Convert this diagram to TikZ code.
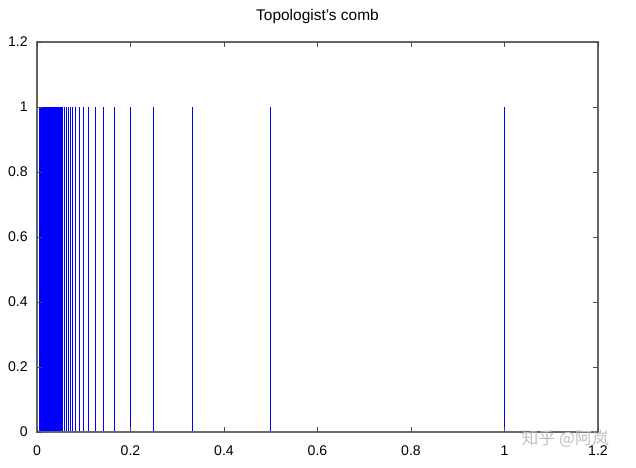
\documentclass[tikz,border=0pt]{standalone}
\usepackage{fontspec}
\setmainfont{Liberation Sans}
\newfontfamily\cjk{Noto Sans CJK SC}
\usepackage{tikz}

\begin{document}
\begin{tikzpicture}[x=9.35cm,y=6.5cm]
  \useasboundingbox(-0.74cm,-0.72cm) rectangle (11.98cm,8.64cm);
  \draw[blue,line width = 0.6pt](0,0) -- (0,1);
  \foreach \n in {1,...,200}
    \draw[blue,line width = 0.6pt](1/\n,0) -- (1/\n,1);
  \draw[black!60,line width = 0.6pt](0,0) rectangle (1.2,1.2);
  \foreach \t in {0,0.2,0.4,0.6,0.8,1,1.2}{
    \draw[black!70,line width = 0.5pt](\t,0) -- ++(0,0.1cm);
    \draw[black!70,line width = 0.5pt](\t,1.2) -- ++(0,-0.1cm);
    \draw[black!70,line width = 0.5pt](0,\t) -- ++(0.1cm,0);
    \draw[black!70,line width = 0.5pt](1.2,\t) -- ++(-0.1cm,0);
    \draw(\t,0) node[anchor = base,yshift = -0.48cm,font = \fontsize{8pt}{9pt}\selectfont]{\t};
    \draw(0,\t) node[anchor = east,inner sep = 0pt,xshift = -0.18cm,font = \fontsize{8pt}{9pt}\selectfont]{\t};
  }
  \draw(0.6,1.2) node[anchor = base,yshift = 0.42cm,font = \fontsize{8.8pt}{10pt}\selectfont]{Topologist's comb};
  \draw(1.13,0) node[yshift = -0.14cm,inner sep = 0pt,text = black!25,font = \cjk\fontsize{9.6pt}{11pt}\selectfont]{知乎 @阿岚};
\end{tikzpicture}
\end{document}
